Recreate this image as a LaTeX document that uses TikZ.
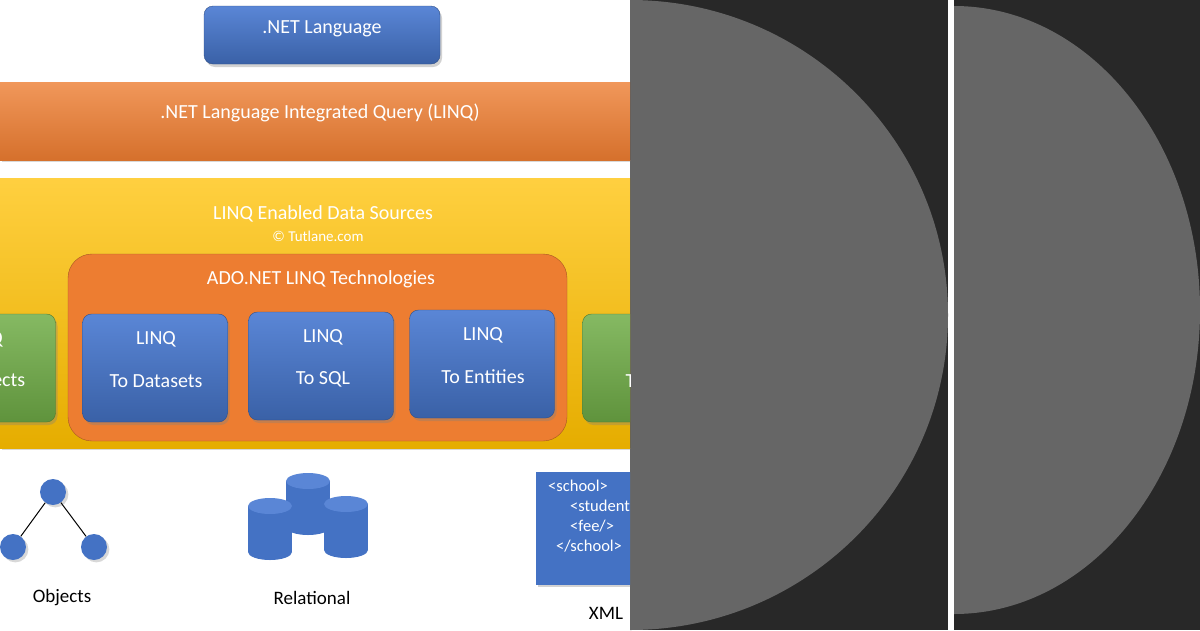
\documentclass[tikz,border=0pt]{standalone}
\usepackage{fontspec}
\setmainfont{Carlito}
\usetikzlibrary{shadows}
\definecolor{bl}{HTML}{4472C4}
\definecolor{blt}{HTML}{5A86D6}
\definecolor{orb}{HTML}{ED7D31}
\definecolor{ylw}{HTML}{FFC000}
\definecolor{grn}{HTML}{70AD47}
\definecolor{dark}{HTML}{282828}
\definecolor{grey}{HTML}{666666}
\tikzset{
 bbox/.style={rounded corners=9pt,top color=blt,bottom color=bl!85!black,draw=bl!70!black,line width=0.4pt,drop shadow={opacity=0.35,shadow xshift=2pt,shadow yshift=-3pt},text=white,font=\fontsize{20}{22}\selectfont,align=center},
 gbox/.style={bbox,top color=grn!85!white,bottom color=grn!85!black,draw=grn!70!black},
 lab/.style={font=\fontsize{19}{21}\selectfont,text=black},
 wt/.style={text=white,font=\fontsize{20}{22}\selectfont},
 dot/.style={circle,fill=bl,minimum size=26pt,inner sep=0pt,drop shadow={opacity=0.3}},
}
\newcommand{\twolines}[4]{% name, x, y(center of box), text2
 \node[wt] (#1a) at (#2,#3-29) {LINQ};
 \node[wt] (#1b) at (#2,#3+13) {#4};
}
\begin{document}
\begin{tikzpicture}[x=1pt,y=-1pt]
\useasboundingbox (0,0) rectangle (1200,630);
\fill[white] (0,0) rectangle (1200,630);
\fill[dark] (630,0) rectangle (948,630);
\fill[dark] (954,0) rectangle (1200,630);
\fill[grey] (630,0) arc[start angle=-90,end angle=90,x radius=318,y radius=315] -- cycle;
\fill[grey] (954,6) arc[start angle=-90,end angle=90,x radius=246,y radius=304] -- cycle;
\begin{scope}
\clip (0,0) rectangle (630,630);
\node[bbox,minimum width=236pt,minimum height=58pt] (lang) at (322,35) {};
\node[wt] (langt) at (322,29) {.NET Language};
\fill[top color=orb!80!white,bottom color=orb!90!black,drop shadow={opacity=0.3}] (0,82) rectangle (640,160);
\node[wt] (linq) at (320,113) {.NET Language Integrated Query (LINQ)};
\fill[top color=ylw!75!white,bottom color=ylw!90!black,drop shadow={opacity=0.3}] (0,178) rectangle (640,448);
\node[wt] (eds) at (323,214) {LINQ Enabled Data Sources};
\node[text=white,font=\fontsize{15}{17}\selectfont] (cp) at (318,236) {© Tutlane.com};
\fill[orb,draw=orb!70!black,rounded corners=24pt] (68,254) rectangle (567,441);
\node[wt] (ado) at (321,279) {ADO.NET LINQ Technologies};
\node[gbox,minimum width=145pt,minimum height=108pt] (lo) at (-17,368) {};
\node[bbox,minimum width=145pt,minimum height=108pt] (ld) at (155,368) {};
\node[bbox,minimum width=145pt,minimum height=108pt] (ls) at (321,366) {};
\node[bbox,minimum width=145pt,minimum height=108pt] (le) at (482,364) {};
\node[gbox,minimum width=145pt,minimum height=108pt] (lx) at (655,368) {};
\twolines{lot}{-17}{368}{To Objects}
\twolines{ldt}{156}{368}{To Datasets}
\twolines{lst}{323}{366}{To SQL}
\twolines{let}{483}{364}{To Entities}
\twolines{lxt}{655}{368}{To XML}
% objects
\node[dot] (o1) at (53,492) {};
\node[dot] (o2) at (13,547) {};
\node[dot] (o3) at (94,547) {};
\draw[line width=1pt] (o1) -- (o2) (o1) -- (o3);
\node[lab] (ol) at (62,598) {Objects};
% relational
\foreach \n/\cx/\cy in {c2/308/481,c1/270/506,c3/346/504}{
 \fill[bl] (\cx-22,\cy) rectangle (\cx+22,\cy+46);
 \fill[bl] (\cx,\cy+46) ellipse[x radius=22,y radius=8];
 \fill[blt] (\cx,\cy) ellipse[x radius=22,y radius=8];
 \coordinate (\n) at (\cx,\cy);
}
\node[lab] (rl) at (312,598) {Relational};
% xml
\fill[bl,drop shadow={opacity=0.35}] (536,472) rectangle (645,585);
\node[text=white,font=\fontsize{16.5}{20}\selectfont,anchor=north west,align=left,inner sep=0pt] (xt) at (548,480) {<school>\\\hspace{22pt}<student\\\hspace{22pt}<fee/>\\\hspace{8pt}</school>};
\node[lab] (xl) at (606,613) {XML};
\end{scope}
\end{tikzpicture}
\end{document}
